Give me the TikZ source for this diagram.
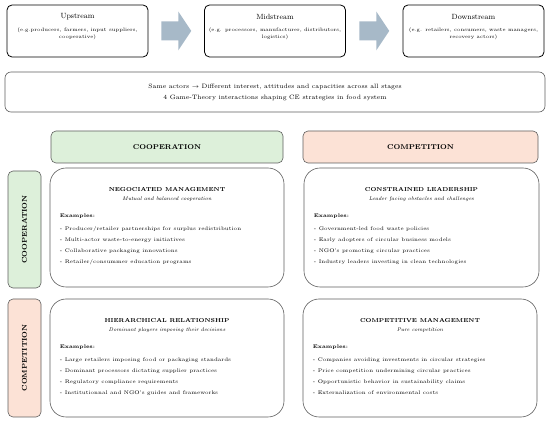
\documentclass[tikz,border=0pt]{standalone}
\usetikzlibrary{calc}
\definecolor{greenf}{HTML}{DDF0DA}
\definecolor{salmonf}{HTML}{FCE2D6}
\definecolor{arrowc}{HTML}{A7B9C8}
\definecolor{edgeg}{HTML}{5E5E5E}
\tikzset{
  stagebox/.style={draw=black, line width=0.8pt, rounded corners=5pt, minimum width=141pt, minimum height=52pt, inner sep=0pt},
  stagetitle/.style={font=\fontsize{7.5}{8}\selectfont, inner sep=0pt},
  stagesub/.style={font=\fontsize{5}{7}\selectfont, align=center, inner sep=0pt},
  blockarrow/.style={fill=arrowc, draw=none},
  infobox/.style={draw=edgeg, line width=0.6pt, rounded corners=6pt, minimum width=540pt, minimum height=40pt, inner sep=0pt},
  infotext/.style={font=\fontsize{6.3}{11}\selectfont, align=center, inner sep=0pt},
  greenhead/.style={draw=edgeg, line width=0.6pt, fill=greenf, rounded corners=5pt, inner sep=0pt, font=\fontsize{7}{8}\selectfont\bfseries},
  salmonhead/.style={draw=edgeg, line width=0.6pt, fill=salmonf, rounded corners=5pt, inner sep=0pt, font=\fontsize{7}{8}\selectfont\bfseries},
  quadbox/.style={draw=edgeg, line width=0.6pt, rounded corners=16pt, minimum width=234pt, minimum height=118pt, inner sep=0pt},
  qtitle/.style={font=\fontsize{5.7}{7}\selectfont\bfseries, inner sep=0pt, anchor=base},
  qsub/.style={font=\fontsize{5.3}{7}\selectfont\itshape, inner sep=0pt, anchor=base},
  qex/.style={font=\fontsize{5.2}{6}\selectfont\bfseries, inner sep=0pt, anchor=base west},
  qitems/.style={font=\fontsize{5.2}{10.8}\selectfont, align=left, inner sep=0pt, anchor=base west},
}
\begin{document}
\begin{tikzpicture}[x=1pt, y=-1pt]
\useasboundingbox (0,0) rectangle (550,422);

% stage boxes
\node[stagebox] (up) at (77.5,31) {};
\node[stagebox] (mid) at (275,31) {};
\node[stagebox] (down) at (473.5,31) {};
\node[stagetitle] (upt) at ($(up.north)+(0,12)$) {Upstream};
\node[stagesub] (ups) at ($(up.north)+(0,29)$) {(e.g.producers, farmers, input suppliers,\\cooperative)};
\node[stagetitle] (midt) at ($(mid.north)+(0,12)$) {Midstream};
\node[stagesub] (mids) at ($(mid.north)+(0,29)$) {(e.g. processors, manufacturer, distributors,\\logistics)};
\node[stagetitle] (downt) at ($(down.north)+(0,12)$) {Downstream};
\node[stagesub] (downs) at ($(down.north)+(0,29)$) {(e.g. retailers, consumers, waste managers,\\recovery actors)};

% block arrows between stages
\path (up.east) -- (mid.west) coordinate[pos=0.5] (a1);
\path (mid.east) -- (down.west) coordinate[pos=0.5] (a2);
\foreach \c in {a1,a2}{
  \fill[blockarrow] ($(\c)+(-15,-9.5)$) -- ($(\c)+(2,-9.5)$) -- ($(\c)+(2,-19.5)$) -- ($(\c)+(15,0)$)
    -- ($(\c)+(2,19.5)$) -- ($(\c)+(2,9.5)$) -- ($(\c)+(-15,9.5)$) -- cycle;
}

% info box
\node[infobox] (info) at (275,92) {};
\node[infotext] (infot) at (info.center) {Same actors $\rightarrow$ Different interest, attitudes and capacities across all stages\\4 Game-Theory interactions shaping CE strategies in food system};

% headers
\node[greenhead, minimum width=232pt, minimum height=32pt] (hcoop) at (167,147) {COOPERATION};
\node[salmonhead, minimum width=235pt, minimum height=32pt] (hcomp) at (420.5,147) {COMPETITION};
\node[greenhead, minimum width=33pt, minimum height=117pt] (scoop) at (24.5,229.5) {};
\node[font=\fontsize{7}{8}\selectfont\bfseries, rotate=90, inner sep=0pt] (scoopt) at (scoop.center) {COOPERATION};
\node[salmonhead, minimum width=33pt, minimum height=118pt] (scomp) at (24.5,358) {};
\node[font=\fontsize{7}{8}\selectfont\bfseries, rotate=90, inner sep=0pt] (scompt) at (scomp.center) {COMPETITION};

% quadrants
\node[quadbox, minimum height=119pt] (nm) at (167,227.5) {};
\node[quadbox, minimum width=235pt, minimum height=119pt] (cl) at (421.5,227.5) {};
\node[quadbox] (hr) at (167,358) {};
\node[quadbox] (cm) at (420,358) {};

% NM
\node[qtitle] (nmt) at ($(nm.north)+(0,24)$) {NEGOCIATED MANAGEMENT};
\node[qsub] (nms) at ($(nm.north)+(0,33)$) {Mutual and balanced cooperation};
\node[qex] (nme) at ($(nm.north west)+(10,50)$) {Examples:};
\node[qitems] (nmi) at ($(nm.north west)+(10,95.4)$) {- Producer/retailer partnerships for surplus redistribution\\- Multi-actor waste-to-energy initiatives\\- Collaborative packaging innovations\\- Retailer/consummer education programs};

% CL
\node[qtitle] (clt) at ($(cl.north)+(0,24)$) {CONSTRAINED LEADERSHIP};
\node[qsub] (cls) at ($(cl.north)+(0,33)$) {Leader facing obstacles and challenges};
\node[qex] (cle) at ($(cl.north west)+(10,50)$) {Examples:};
\node[qitems] (cli) at ($(cl.north west)+(10,95.4)$) {- Government-led food waste policies\\- Early adopters of circular business models\\- NGO's promoting circular practices\\- Industry leaders investing in clean technologies};

% HR
\node[qtitle] (hrt) at ($(hr.north)+(0,24)$) {HIERARCHICAL RELATIONSHIP};
\node[qsub] (hrs) at ($(hr.north)+(0,33)$) {Dominant players imposing their decisions};
\node[qex] (hre) at ($(hr.north west)+(10,50)$) {Examples:};
\node[qitems] (hri) at ($(hr.north west)+(10,95.4)$) {- Large retailers imposing food or packaging standards\\- Dominant processors dictating supplier practices\\- Regulatory compliance requirements\\- Institutionnal and NGO's guides and frameworks};

% CM
\node[qtitle] (cmt) at ($(cm.north)+(0,24)$) {COMPETITIVE MANAGEMENT};
\node[qsub] (cms) at ($(cm.north)+(0,33)$) {Pure competition};
\node[qex] (cme) at ($(cm.north west)+(10,50)$) {Examples:};
\node[qitems] (cmi) at ($(cm.north west)+(10,95.4)$) {- Companies avoiding investments in circular strategies\\- Price competition undermining circular practices\\- Opportunistic behavior in sustainability claims\\- Externalization of environmental costs};
\end{tikzpicture}
\end{document}
